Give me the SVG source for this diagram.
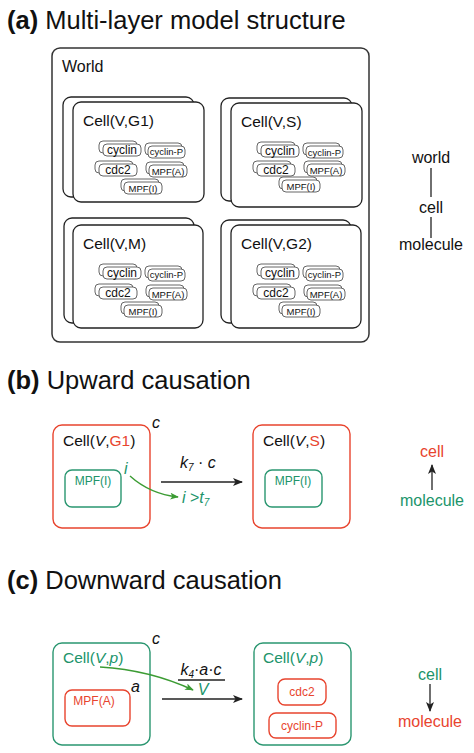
<svg xmlns="http://www.w3.org/2000/svg" width="474" height="753" viewBox="0 0 474 753">
<defs>
<style>
text{font-family:"Liberation Sans",Arial,Helvetica,sans-serif;fill:#111}
.title{font-size:25.5px}
.b{font-weight:bold}
.world{fill:#fff;stroke:#333;stroke-width:1.5}
.cell{fill:#fff;stroke:#222;stroke-width:1.3}
.mol{fill:#fff;stroke:#555;stroke-width:0.9}
.lab{font-size:15.5px}
.leg{font-size:16px;text-anchor:middle}
.m12{font-size:12px;text-anchor:middle}
.m10{font-size:9.5px;text-anchor:middle}
.red{fill:#e8442e}
.grn{fill:#20946a}
.rbox{fill:none;stroke:#e8442e;stroke-width:1.4}
.gbox{fill:none;stroke:#2a9670;stroke-width:1.4}
.it{font-style:italic}
.line{stroke:#222;stroke-width:1.3;fill:none}
.gcurve{stroke:#3c9c34;stroke-width:1.4;fill:none}
</style>
<marker id="ah" viewBox="0 0 10 8" refX="9" refY="4" markerWidth="10" markerHeight="8" markerUnits="userSpaceOnUse" orient="auto"><path d="M0,0 L10,4 L0,8 L2.5,4 z" fill="#222"/></marker>
<marker id="ahg" viewBox="0 0 10 8" refX="9" refY="4" markerWidth="9" markerHeight="7" markerUnits="userSpaceOnUse" orient="auto"><path d="M0,0 L10,4 L0,8 L2.5,4 z" fill="#3c9c34"/></marker>
</defs>
<rect width="474" height="753" fill="#fff"/>

<!-- Panel titles -->
<text class="title" x="7" y="29"><tspan class="b">(a)</tspan> Multi-layer model structure</text>
<text class="title" x="7" y="389"><tspan class="b">(b)</tspan> Upward causation</text>
<text class="title" x="7" y="589"><tspan class="b">(c)</tspan> Downward causation</text>

<!-- Panel a -->
<g id="world">
<rect class="world" x="52" y="48" width="317" height="294" rx="8"/>
<text x="62" y="72" style="font-size:16px">World</text>
</g>

<g id="cell-G1">
<rect class="cell" x="63" y="97" width="131" height="100" rx="8"/>
<rect class="cell" x="73" y="102" width="131" height="100" rx="8"/>
<text class="lab" x="83" y="126">Cell(V,G1)</text>
<rect class="mol" x="99" y="141" width="38" height="12" rx="4"/><rect class="mol" x="103" y="144" width="38" height="12" rx="4"/>
<text class="m12" x="122" y="154">cyclin</text>
<rect class="mol" x="145" y="143" width="37" height="12" rx="4"/><rect class="mol" x="148" y="146" width="37" height="12" rx="4"/>
<text class="m10" x="166.5" y="155">cyclin-P</text>
<rect class="mol" x="95" y="161" width="38" height="12" rx="4"/><rect class="mol" x="99" y="164" width="38" height="12" rx="4"/>
<text class="m12" x="118" y="174">cdc2</text>
<rect class="mol" x="146" y="162" width="38" height="12" rx="4"/><rect class="mol" x="149" y="165" width="38" height="12" rx="4"/>
<text class="m10" x="168" y="174.5">MPF(A)</text>
<rect class="mol" x="121" y="179" width="38" height="12" rx="4"/><rect class="mol" x="124" y="182" width="38" height="12" rx="4"/>
<text class="m10" x="143" y="191.5">MPF(I)</text>
</g>

<g id="cell-S">
<rect class="cell" x="221" y="98" width="131" height="103" rx="8"/>
<rect class="cell" x="231" y="103" width="131" height="104" rx="8"/>
<text class="lab" x="241" y="127">Cell(V,S)</text>
<rect class="mol" x="257" y="142" width="38" height="12" rx="4"/><rect class="mol" x="261" y="145" width="38" height="12" rx="4"/>
<text class="m12" x="280" y="155">cyclin</text>
<rect class="mol" x="303" y="143" width="37" height="12" rx="4"/><rect class="mol" x="306" y="146" width="37" height="12" rx="4"/>
<text class="m10" x="324.5" y="156">cyclin-P</text>
<rect class="mol" x="253" y="161" width="38" height="12" rx="4"/><rect class="mol" x="257" y="164" width="38" height="12" rx="4"/>
<text class="m12" x="276" y="174">cdc2</text>
<rect class="mol" x="304" y="161" width="38" height="12" rx="4"/><rect class="mol" x="307" y="164" width="38" height="12" rx="4"/>
<text class="m10" x="326" y="173.5">MPF(A)</text>
<rect class="mol" x="279" y="177" width="38" height="12" rx="4"/><rect class="mol" x="282" y="180" width="38" height="12" rx="4"/>
<text class="m10" x="301" y="189.5">MPF(I)</text>
</g>

<g id="cell-M">
<rect class="cell" x="64" y="218" width="130" height="105" rx="8"/>
<rect class="cell" x="73" y="225" width="130" height="103" rx="8"/>
<text class="lab" x="83" y="249">Cell(V,M)</text>
<rect class="mol" x="99" y="264" width="38" height="12" rx="4"/><rect class="mol" x="103" y="267" width="38" height="12" rx="4"/>
<text class="m12" x="122" y="277">cyclin</text>
<rect class="mol" x="145" y="266" width="37" height="12" rx="4"/><rect class="mol" x="148" y="269" width="37" height="12" rx="4"/>
<text class="m10" x="166.5" y="278">cyclin-P</text>
<rect class="mol" x="95" y="284" width="38" height="12" rx="4"/><rect class="mol" x="99" y="287" width="38" height="12" rx="4"/>
<text class="m12" x="118" y="297">cdc2</text>
<rect class="mol" x="146" y="285" width="38" height="12" rx="4"/><rect class="mol" x="149" y="288" width="38" height="12" rx="4"/>
<text class="m10" x="168" y="297.5">MPF(A)</text>
<rect class="mol" x="121" y="302" width="38" height="12" rx="4"/><rect class="mol" x="124" y="305" width="38" height="12" rx="4"/>
<text class="m10" x="143" y="314.5">MPF(I)</text>
</g>

<g id="cell-G2">
<rect class="cell" x="221" y="220" width="130" height="103" rx="8"/>
<rect class="cell" x="231" y="225" width="130" height="103" rx="8"/>
<text class="lab" x="241" y="249">Cell(V,G2)</text>
<rect class="mol" x="257" y="264" width="38" height="12" rx="4"/><rect class="mol" x="261" y="267" width="38" height="12" rx="4"/>
<text class="m12" x="280" y="277">cyclin</text>
<rect class="mol" x="303" y="266" width="37" height="12" rx="4"/><rect class="mol" x="306" y="269" width="37" height="12" rx="4"/>
<text class="m10" x="324.5" y="278">cyclin-P</text>
<rect class="mol" x="253" y="284" width="38" height="12" rx="4"/><rect class="mol" x="257" y="287" width="38" height="12" rx="4"/>
<text class="m12" x="276" y="297">cdc2</text>
<rect class="mol" x="304" y="285" width="38" height="12" rx="4"/><rect class="mol" x="307" y="288" width="38" height="12" rx="4"/>
<text class="m10" x="326" y="297.5">MPF(A)</text>
<rect class="mol" x="279" y="302" width="38" height="12" rx="4"/><rect class="mol" x="282" y="305" width="38" height="12" rx="4"/>
<text class="m10" x="301" y="314.5">MPF(I)</text>
</g>

<g id="legend-a">
<text class="leg" x="431" y="163">world</text>
<text class="leg" x="431" y="213">cell</text>
<text class="leg" x="431" y="250">molecule</text>
</g>

<!-- Panel b -->
<g id="b-cell-G1">
<rect class="rbox" x="53" y="425" width="97" height="103" rx="9"/>
<text class="lab" x="63" y="446">Cell(<tspan class="it">V</tspan>,<tspan class="red">G1</tspan>)</text>
<text class="it" x="152" y="428" style="font-size:16px">c</text>
</g>
<g id="b-mpfi-1">
<rect class="gbox" x="65" y="470" width="56" height="37" rx="7"/>
<text class="grn" x="93" y="485" style="font-size:12px;text-anchor:middle">MPF(I)</text>
<text class="grn it" x="124" y="474" style="font-size:16px">i</text>
</g>
<g id="b-cond">
<text class="grn" x="182" y="503" style="font-size:16px"><tspan class="it">i</tspan> &gt;<tspan class="it">t</tspan><tspan style="font-size:10px" class="it" dy="3">7</tspan></text>
</g>
<g id="b-rate">
<text x="180" y="468" style="font-size:16px"><tspan class="it">k</tspan><tspan style="font-size:10px" class="it" dy="3">7</tspan><tspan dy="-3"> · </tspan><tspan class="it">c</tspan></text>
</g>
<g id="b-cell-S">
<rect class="rbox" x="253" y="425" width="97" height="103" rx="9"/>
<text class="lab" x="263" y="446">Cell(<tspan class="it">V</tspan>,<tspan class="red">S</tspan>)</text>
</g>
<g id="b-mpfi-2">
<rect class="gbox" x="265" y="470" width="57" height="37" rx="7"/>
<text class="grn" x="293" y="485" style="font-size:12px;text-anchor:middle">MPF(I)</text>
</g>
<g id="legend-b">
<text class="leg red" x="432" y="457">cell</text>
<text class="leg grn" x="432" y="506">molecule</text>
</g>

<!-- Panel c -->
<g id="c-cell-1">
<rect class="gbox" x="53" y="643" width="97" height="102" rx="9"/>
<text class="lab grn" x="63" y="663">Cell(<tspan class="it">V</tspan>,<tspan class="it">p</tspan>)</text>
<text class="it" x="152" y="644" style="font-size:16px">c</text>
</g>
<g id="c-mpfa">
<rect class="rbox" x="65" y="690" width="65" height="36" rx="7"/>
<text class="red" x="94" y="705" style="font-size:12px;text-anchor:middle">MPF(A)</text>
<text class="it" x="131" y="692" style="font-size:16px">a</text>
</g>
<g id="c-rate">
<text x="201" y="675" style="font-size:16px;text-anchor:middle"><tspan class="it">k</tspan><tspan style="font-size:10px" class="it" dy="3">4</tspan><tspan dy="-3">·</tspan><tspan class="it">a</tspan>·<tspan class="it">c</tspan></text>
<text class="grn it" x="203" y="695" style="font-size:16px;text-anchor:middle">V</text>
</g>
<g id="c-cell-2">
<rect class="gbox" x="254" y="643" width="97" height="102" rx="9"/>
<text class="lab grn" x="263" y="663">Cell(<tspan class="it">V</tspan>,<tspan class="it">p</tspan>)</text>
</g>
<g id="c-cdc2">
<rect class="rbox" x="278" y="679" width="48" height="26" rx="7"/>
<text class="red" x="302" y="696" style="font-size:12px;text-anchor:middle">cdc2</text>
</g>
<g id="c-cyclinp">
<rect class="rbox" x="269" y="713" width="67" height="25" rx="7"/>
<text class="red" x="302" y="730" style="font-size:12px;text-anchor:middle">cyclin-P</text>
</g>
<g id="legend-c">
<text class="leg grn" x="430" y="680">cell</text>
<text class="leg red" x="430" y="727">molecule</text>
</g>

<!-- Connectors -->
<g id="connectors">
<line class="line" x1="431" y1="168" x2="431" y2="197"/>
<line class="line" x1="431" y1="217" x2="431" y2="238"/>
<line class="line" x1="161" y1="482" x2="242" y2="482" marker-end="url(#ah)"/>
<path class="gcurve" d="M130,476 Q150,494 178,497" marker-end="url(#ahg)"/>
<line class="line" x1="432" y1="490" x2="432" y2="465" marker-end="url(#ah)"/>
<line class="line" x1="178" y1="680" x2="225" y2="680"/>
<path class="gcurve" d="M100,667 Q150,670 193,690" marker-end="url(#ahg)"/>
<line class="line" x1="162" y1="699" x2="242" y2="699" marker-end="url(#ah)"/>
<line class="line" x1="430" y1="684" x2="430" y2="711" marker-end="url(#ah)"/>
</g>
</svg>
